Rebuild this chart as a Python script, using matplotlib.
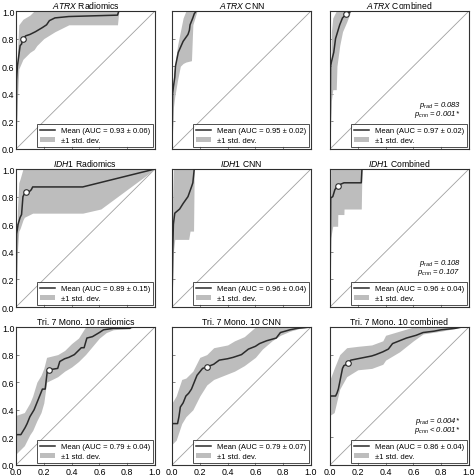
import matplotlib
matplotlib.use("Agg")
import matplotlib.pyplot as plt
from matplotlib.lines import Line2D
from matplotlib.patches import Patch

plt.rcParams['font.family'] = ['Liberation Sans', 'DejaVu Sans']
plt.rcParams['mathtext.fontset'] = 'custom'
plt.rcParams['mathtext.rm'] = 'Liberation Sans'
plt.rcParams['mathtext.it'] = 'Liberation Sans:italic'

# ---------------- data ----------------
titles = [r'$\it{ATRX}$ Radiomics', r'$\it{ATRX}$ CNN', r'$\it{ATRX}$ Combined',
          r'$\it{IDH1}$ Radiomics', r'$\it{IDH1}$ CNN', r'$\it{IDH1}$ Combined',
          'Tri. 7 Mono. 10 radiomics', 'Tri. 7 Mono. 10 CNN', 'Tri. 7 Mono. 10 combined']
auc_labels = ['0.93 ± 0.06', '0.95 ± 0.02', '0.97 ± 0.02',
              '0.89 ± 0.15', '0.96 ± 0.04', '0.96 ± 0.04',
              '0.79 ± 0.04', '0.79 ± 0.07', '0.86 ± 0.04']
p_rad = [None, None, '= 0.083', None, None, '= 0.108', None, None, '= 0.004*']
p_cnn = [None, None, '= 0.001*', None, None, '= 0.107', None, None, '< 0.001*']

# ATRX radiomics
atrx_rad_fpr = [0, 0.005, 0.01, 0.03, 0.04, 0.05, 0.07, 0.10, 0.14, 0.19, 0.22, 0.24, 0.28, 0.38, 0.73, 0.74, 1.0]
atrx_rad_tpr = [0, 0.50, 0.60, 0.75, 0.76, 0.80, 0.82, 0.83, 0.85, 0.88, 0.90, 0.93, 0.95, 0.96, 0.97, 1.0, 1.0]
atrx_rad_bfpr = [0, 0.01, 0.02, 0.05, 0.10, 0.13, 0.15, 0.20, 0.28, 0.38, 0.73, 0.74, 1.0]
atrx_rad_lo = [0, 0.35, 0.58, 0.65, 0.70, 0.72, 0.75, 0.80, 0.85, 0.90, 0.90, 1.0, 1.0]
atrx_rad_hi = [0, 0.70, 0.90, 0.94, 0.97, 1.0, 1.0, 1.0, 1.0, 1.0, 1.0, 1.0, 1.0]
atrx_rad_op = (0.05, 0.80)

# ATRX CNN
atrx_cnn_fpr = [0, 0.005, 0.01, 0.02, 0.025, 0.045, 0.08, 0.115, 0.125, 0.13, 0.15, 0.16, 0.175, 1.0]
atrx_cnn_tpr = [0, 0.40, 0.45, 0.52, 0.60, 0.70, 0.78, 0.83, 0.86, 0.90, 0.95, 0.98, 1.0, 1.0]
atrx_cnn_bfpr = [0, 0.01, 0.02, 0.04, 0.06, 0.08, 0.10, 0.14, 0.15, 0.18, 1.0]
atrx_cnn_lo = [0, 0.30, 0.38, 0.50, 0.60, 0.62, 0.63, 0.64, 0.90, 1.0, 1.0]
atrx_cnn_hi = [0, 0.55, 0.60, 0.75, 0.85, 0.95, 1.0, 1.0, 1.0, 1.0, 1.0]
atrx_cnn_op = None

# ATRX combined
atrx_com_fpr = [0, 0.005, 0.01, 0.027, 0.04, 0.055, 0.07, 0.09, 0.115, 0.13, 0.15, 1.0]
atrx_com_tpr = [0, 0.60, 0.63, 0.70, 0.80, 0.85, 0.90, 0.95, 0.975, 0.98, 1.0, 1.0]
atrx_com_bfpr = [0, 0.01, 0.02, 0.045, 0.05, 0.07, 0.09, 0.12, 0.15, 1.0]
atrx_com_lo = [0, 0.35, 0.43, 0.43, 0.60, 0.75, 0.85, 0.92, 1.0, 1.0]
atrx_com_hi = [0, 0.85, 0.95, 1.0, 1.0, 1.0, 1.0, 1.0, 1.0, 1.0]
atrx_com_op = (0.115, 0.975)

# IDH1 radiomics
idh_rad_fpr = [0, 0.005, 0.015, 0.03, 0.04, 0.05, 0.06, 0.07, 0.09, 0.11, 0.12, 0.48, 1.0]
idh_rad_tpr = [0, 0.53, 0.60, 0.65, 0.67, 0.80, 0.82, 0.83, 0.83, 0.85, 0.87, 0.87, 1.0]
idh_rad_bfpr = [0, 0.01, 0.02, 0.03, 0.05, 0.06, 0.12, 0.48, 0.61, 1.0]
idh_rad_lo = [0, 0.40, 0.55, 0.57, 0.63, 0.65, 0.68, 0.68, 0.71, 1.0]
idh_rad_hi = [0, 0.70, 0.90, 0.93, 1.0, 1.0, 1.0, 1.0, 1.0, 1.0]
idh_rad_op = (0.07, 0.83)

# IDH1 CNN
idh_cnn_fpr = [0, 0.005, 0.01, 0.02, 0.055, 0.08, 0.115, 0.14, 0.15, 0.16, 1.0]
idh_cnn_tpr = [0, 0.40, 0.60, 0.68, 0.71, 0.75, 0.80, 0.87, 0.90, 1.0, 1.0]
idh_cnn_bfpr = [0, 0.005, 0.01, 0.02, 0.12, 0.13, 0.155, 0.16, 1.0]
idh_cnn_lo = [0, 0.20, 0.40, 0.49, 0.49, 0.55, 0.55, 1.0, 1.0]
idh_cnn_hi = [0, 0.80, 1.0, 1.0, 1.0, 1.0, 1.0, 1.0, 1.0]
idh_cnn_op = None

# IDH1 combined
idh_com_fpr = [0, 0.005, 0.02, 0.035, 0.055, 0.10, 0.225, 0.23, 1.0]
idh_com_tpr = [0, 0.79, 0.80, 0.85, 0.88, 0.90, 0.90, 1.0, 1.0]
idh_com_bfpr = [0, 0.005, 0.02, 0.055, 0.056, 0.10, 0.101, 0.225, 0.23, 1.0]
idh_com_lo = [0, 0.50, 0.585, 0.585, 0.67, 0.67, 0.71, 0.71, 1.0, 1.0]
idh_com_hi = [0, 1.0, 1.0, 1.0, 1.0, 1.0, 1.0, 1.0, 1.0, 1.0]
idh_com_op = (0.055, 0.88)

# Tri 7 / Mono 10 radiomics
tri_rad_fpr = [0, 0.002, 0.035, 0.065, 0.08, 0.10, 0.13, 0.15, 0.17, 0.19, 0.21, 0.225, 0.24, 0.30, 0.315,
               0.35, 0.38, 0.42, 0.44, 0.47, 0.49, 0.51, 0.55, 0.60, 0.63, 0.70, 0.82, 0.83, 1.0]
tri_rad_tpr = [0, 0.22, 0.22, 0.27, 0.30, 0.35, 0.40, 0.45, 0.50, 0.55, 0.55, 0.68, 0.69, 0.70, 0.75,
               0.77, 0.78, 0.80, 0.82, 0.85, 0.85, 0.92, 0.93, 0.96, 0.98, 0.99, 0.99, 1.0, 1.0]
tri_rad_bfpr = [0, 0.06, 0.10, 0.12, 0.15, 0.18, 0.20, 0.22, 0.30, 0.35, 0.40, 0.45, 0.50, 0.55, 0.60,
                0.65, 0.70, 0.82, 0.85, 1.0]
tri_rad_lo = [0.08, 0.14, 0.22, 0.25, 0.32, 0.38, 0.45, 0.60, 0.64, 0.68, 0.71, 0.75, 0.80, 0.86, 0.92,
              0.96, 0.98, 0.99, 1.0, 1.0]
tri_rad_hi = [0.36, 0.38, 0.45, 0.50, 0.60, 0.65, 0.70, 0.78, 0.80, 0.83, 0.88, 0.92, 1.0, 1.0, 1.0,
              1.0, 1.0, 1.0, 1.0, 1.0]
tri_rad_op = (0.24, 0.69)

# Tri 7 / Mono 10 CNN
tri_cnn_fpr = [0, 0.002, 0.04, 0.05, 0.06, 0.08, 0.10, 0.12, 0.14, 0.16, 0.18, 0.22, 0.25, 0.30, 0.34,
               0.40, 0.44, 0.50, 0.55, 0.60, 0.63, 0.68, 0.75, 0.78, 0.85, 0.90, 1.0]
tri_cnn_tpr = [0, 0.30, 0.30, 0.35, 0.42, 0.45, 0.50, 0.52, 0.55, 0.60, 0.65, 0.70, 0.71, 0.73, 0.76,
               0.77, 0.78, 0.80, 0.84, 0.86, 0.88, 0.90, 0.92, 0.96, 0.98, 0.99, 1.0]
tri_cnn_bfpr = [0, 0.03, 0.07, 0.10, 0.15, 0.20, 0.25, 0.30, 0.40, 0.45, 0.52, 0.60, 0.65, 0.72, 0.78,
                0.85, 0.92, 1.0]
tri_cnn_lo = [0.15, 0.18, 0.30, 0.35, 0.40, 0.50, 0.58, 0.62, 0.66, 0.68, 0.72, 0.78, 0.84, 0.90, 0.94,
              0.97, 0.99, 1.0]
tri_cnn_hi = [0.45, 0.50, 0.62, 0.63, 0.68, 0.78, 0.80, 0.85, 0.87, 0.90, 0.93, 1.0, 1.0, 1.0, 1.0,
              1.0, 1.0, 1.0]
tri_cnn_op = (0.25, 0.71)

# Tri 7 / Mono 10 combined
tri_com_fpr = [0, 0.002, 0.04, 0.05, 0.06, 0.07, 0.08, 0.09, 0.10, 0.12, 0.13, 0.15, 0.20, 0.25, 0.30,
               0.33, 0.38, 0.42, 0.45, 0.50, 0.55, 0.62, 0.67, 0.75, 0.80, 0.90, 0.95, 1.0]
tri_com_tpr = [0, 0.50, 0.50, 0.52, 0.55, 0.60, 0.65, 0.70, 0.72, 0.73, 0.74, 0.76, 0.77, 0.78, 0.79,
               0.80, 0.82, 0.84, 0.88, 0.90, 0.92, 0.94, 0.96, 0.97, 0.98, 0.99, 1.0, 1.0]
tri_com_bfpr = [0, 0.03, 0.07, 0.12, 0.20, 0.30, 0.38, 0.40, 0.50, 0.60, 0.67, 0.80, 0.95, 1.0]
tri_com_lo = [0.36, 0.38, 0.55, 0.64, 0.69, 0.70, 0.73, 0.76, 0.82, 0.90, 0.95, 0.97, 1.0, 1.0]
tri_com_hi = [0.62, 0.70, 0.80, 0.85, 0.86, 0.87, 0.90, 0.94, 0.97, 1.0, 1.0, 1.0, 1.0, 1.0]
tri_com_op = (0.13, 0.74)

panels = [
    (atrx_rad_fpr, atrx_rad_tpr, atrx_rad_bfpr, atrx_rad_lo, atrx_rad_hi, atrx_rad_op),
    (atrx_cnn_fpr, atrx_cnn_tpr, atrx_cnn_bfpr, atrx_cnn_lo, atrx_cnn_hi, atrx_cnn_op),
    (atrx_com_fpr, atrx_com_tpr, atrx_com_bfpr, atrx_com_lo, atrx_com_hi, atrx_com_op),
    (idh_rad_fpr, idh_rad_tpr, idh_rad_bfpr, idh_rad_lo, idh_rad_hi, idh_rad_op),
    (idh_cnn_fpr, idh_cnn_tpr, idh_cnn_bfpr, idh_cnn_lo, idh_cnn_hi, idh_cnn_op),
    (idh_com_fpr, idh_com_tpr, idh_com_bfpr, idh_com_lo, idh_com_hi, idh_com_op),
    (tri_rad_fpr, tri_rad_tpr, tri_rad_bfpr, tri_rad_lo, tri_rad_hi, tri_rad_op),
    (tri_cnn_fpr, tri_cnn_tpr, tri_cnn_bfpr, tri_cnn_lo, tri_cnn_hi, tri_cnn_op),
    (tri_com_fpr, tri_com_tpr, tri_com_bfpr, tri_com_lo, tri_com_hi, tri_com_op),
]
ticks = [0.0, 0.2, 0.4, 0.6, 0.8, 1.0]
tick_labels = ['0.0', '0.2', '0.4', '0.6', '0.8', '1.0']

# ---------------- figure ----------------
W, H = 474, 477
fig = plt.figure(figsize=(W / 100, H / 100), dpi=100)
col_left = [16, 172, 330]
row_top = [12, 170, 328]
aw, ah = 139, 138

line_col = '#2b2b2b'
band_col = '#bdbdbd'

for i, (fpr, tpr, bfpr, lo, hi, op) in enumerate(panels):
    r, c = divmod(i, 3)
    ax = fig.add_axes([col_left[c] / W, 1 - (row_top[r] + ah) / H, aw / W, ah / H])
    ax.plot([0, 1], [0, 1], color='#a0a0a0', lw=0.6, zorder=1)
    ax.fill_between(bfpr, lo, hi, color=band_col, lw=0, zorder=2)
    ax.plot(fpr, tpr, color=line_col, lw=1.1, zorder=3)
    if op is not None:
        ax.plot([op[0]], [op[1]], marker='o', ms=4, mfc='white', mec=line_col, mew=0.8, zorder=4)
    ax.set_xlim(0, 1)
    ax.set_ylim(0, 1)
    ax.set_xticks(ticks)
    ax.set_yticks(ticks)
    ax.set_xticklabels(tick_labels if r == 2 else [])
    ax.set_yticklabels(tick_labels if c == 0 else [])
    ax.tick_params(direction='in', length=2, width=0.5, labelsize=6.4, pad=1.2, color='#555555')
    for sp in ax.spines.values():
        sp.set_linewidth(0.8)
        sp.set_color('#333333')
    ax.set_title(titles[i], fontsize=6.2, pad=2)
    handles = [Line2D([0], [0], color=line_col, lw=1.1),
               Patch(facecolor=band_col, edgecolor='none')]
    leg = ax.legend(handles, [f'Mean (AUC = {auc_labels[i]})', '±1 std. dev.'],
                    loc='lower right', fontsize=5.5, frameon=True, fancybox=False,
                    borderaxespad=0.25, handlelength=2.0, borderpad=0.35, labelspacing=0.35,
                    handletextpad=0.8)
    leg.get_frame().set_edgecolor('#222222')
    leg.get_frame().set_linewidth(0.7)
    if p_rad[i] is not None:
        ax.text(0.94, 0.325, r'$p_{rad}$ ' + p_rad[i], transform=ax.transAxes,
                ha='right', va='center', fontsize=5.5, style='italic')
        ax.text(0.94, 0.255, r'$p_{cnn}$ ' + p_cnn[i], transform=ax.transAxes,
                ha='right', va='center', fontsize=5.5, style='italic')

fig.savefig('out.png', dpi=100)
